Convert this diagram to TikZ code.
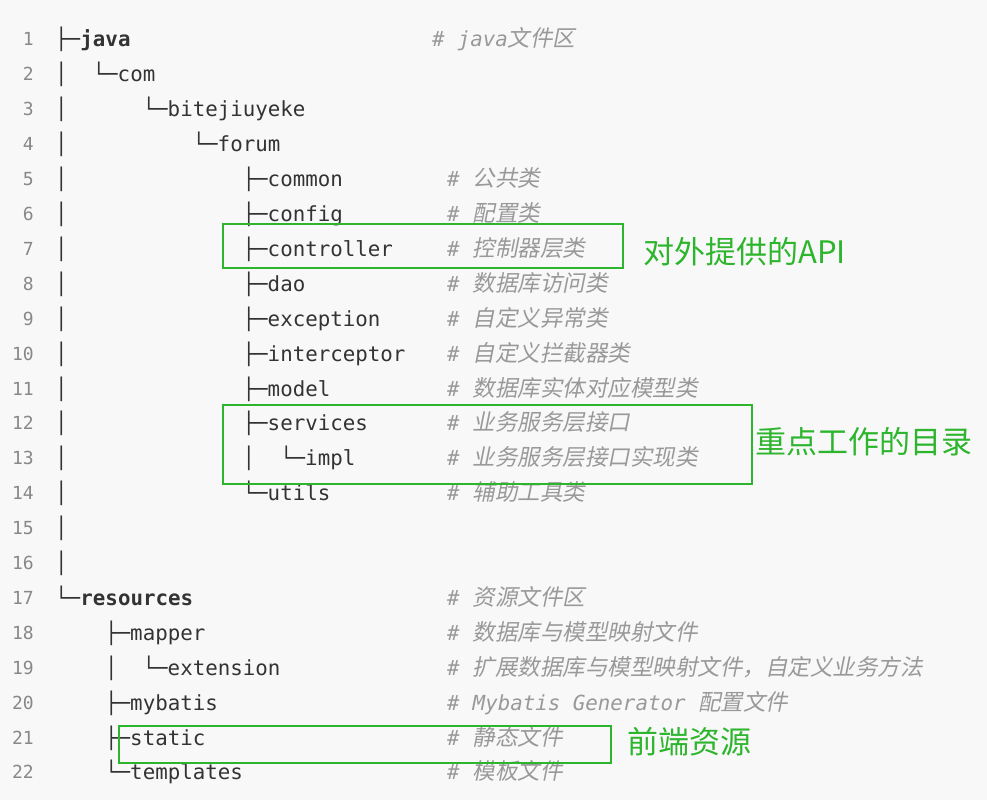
\documentclass[tikz,border=0pt]{standalone}
\usepackage{fontspec}
\setmonofont{DejaVu Sans Mono}
\newfontfamily\cjk{Noto Sans CJK SC}
\newfontfamily\cjkit[FakeSlant=0.2]{Noto Sans CJK SC}
\newfontfamily\mono{DejaVu Sans Mono}
\newfontfamily\monoit{DejaVu Sans Mono Oblique}
\definecolor{bg}{HTML}{F8F8F8}
\definecolor{tc}{HTML}{333333}
\definecolor{cg}{HTML}{999999}
\definecolor{ng}{HTML}{888888}
\definecolor{gr}{HTML}{2DB52D}
\newcommand\T[3]{\node[codetxt] at ({55+12.5*#1},{47+34.9*(#2-1)}) {#3};}
\newcommand\C[3]{\node[commenttxt] at (#1,{47+34.9*(#2-1)}) {\monoit\#\hspace{13pt}\cjkit\fontsize{22.5}{24}\selectfont #3};}
\begin{document}
\begin{tikzpicture}[x=1pt,y=-1pt,
  codetxt/.style={anchor=base west,inner sep=0,text=tc,font=\mono\fontsize{20.8}{22}\selectfont},
  commenttxt/.style={anchor=base west,inner sep=0,text=cg,font=\fontsize{20.8}{22}\selectfont},
  linenum/.style={anchor=base east,inner sep=0,text=ng,font=\mono\fontsize{18}{20}\selectfont},
  gbox/.style={draw=gr,line width=2.2pt},
  glab/.style={anchor=west,inner sep=0,text=gr,font=\cjk\fontsize{31}{33}\selectfont}]
\fill[bg] (0,0) rectangle (987,800);
\useasboundingbox (0,0) rectangle (987,800);
\foreach \r in {1,...,22}{\node[linenum] (n\r) at (34,{46+34.9*(\r-1)}) {\r};}
\T{0}{1}{├─\textbf{java}}
\T{0}{2}{│}\T{3}{2}{└─com}
\T{0}{3}{│}\T{7}{3}{└─bitejiuyeke}
\T{0}{4}{│}\T{11}{4}{└─forum}
\foreach \r/\w in {5/common,6/config,7/controller,8/dao,9/exception,10/interceptor,11/model,12/services}{\T{0}{\r}{│}\T{15}{\r}{├─\w}}
\T{0}{13}{│}\T{15}{13}{│}\T{18}{13}{└─impl}
\T{0}{14}{│}\T{15}{14}{└─utils}
\T{0}{15}{│}\T{0}{16}{│}
\T{0}{17}{└─\textbf{resources}}
\T{4}{18}{├─mapper}
\T{4}{19}{│}\T{7}{19}{└─extension}
\T{4}{20}{├─mybatis}
\T{4}{21}{├─static}
\T{4}{22}{└─templates}
\node[commenttxt] at (432,47) {\monoit\#\hspace{13pt}java\cjkit\fontsize{22.5}{24}\selectfont 文件区};
\C{447}{5}{公共类}
\C{447}{6}{配置类}
\C{447}{7}{控制器层类}
\C{447}{8}{数据库访问类}
\C{447}{9}{自定义异常类}
\C{447}{10}{自定义拦截器类}
\C{447}{11}{数据库实体对应模型类}
\C{447}{12}{业务服务层接口}
\C{447}{13}{业务服务层接口实现类}
\C{447}{14}{辅助工具类}
\C{447}{17}{资源文件区}
\C{447}{18}{数据库与模型映射文件}
\C{447}{19}{扩展数据库与模型映射文件，自定义业务方法}
\node[commenttxt] at (447,{47+34.9*19}) {\monoit\#\hspace{13pt}Mybatis Generator \cjkit\fontsize{22.5}{24}\selectfont 配置文件};
\C{447}{21}{静态文件}
\C{447}{22}{模板文件}
\draw[gbox] (223,224) rectangle (623,268);
\draw[gbox] (223,405) rectangle (752,484);
\draw[gbox] (119,726) rectangle (611,763);
\node[glab] (l1) at (643,252) {对外提供的API};
\node[glab] (l2) at (755,442) {重点工作的目录};
\node[glab] (l3) at (627,742) {前端资源};
\end{tikzpicture}
\end{document}
